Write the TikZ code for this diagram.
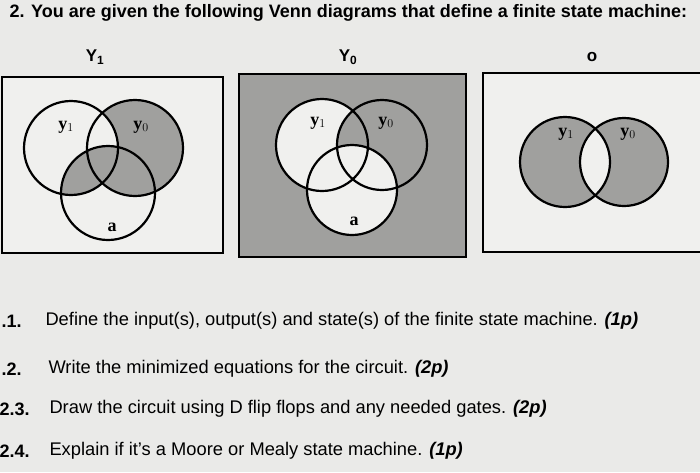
\documentclass[tikz,border=0pt]{standalone}
\usepackage{fontspec}
\setmainfont{Liberation Sans}
\newfontfamily\serifv{Liberation Serif}
\begin{document}
\begin{tikzpicture}[x=1pt,y=-1pt,
  box/.style={draw=black,line width=2pt},
  circ/.style={draw=black,line width=2.2pt},
  lab/.style={font=\serifv\bfseries\fontsize{18}{18}\selectfont},
  hdr/.style={font=\bfseries\fontsize{17}{17}\selectfont},
  qtxt/.style={anchor=west,font=\fontsize{18.3}{18.3}\selectfont}]
\definecolor{bg}{RGB}{234,234,232}
\definecolor{sh}{RGB}{160,160,158}
\definecolor{wh}{RGB}{240,240,238}
\fill[bg] (0,0) rectangle (700,472);
\useasboundingbox (0,0) rectangle (700,472);
\node[anchor=west,font=\bfseries\fontsize{18}{18}\selectfont] (title) at (6,13) {2. You are given the following Venn diagrams that define a finite state machine:};
\node[hdr] (h1) at (95,57) {Y\textsubscript{1}};
\node[hdr] (h2) at (348,57) {Y\textsubscript{0}};
\node[hdr] (h3) at (592,57) {o};
% diagram 1
\fill[wh] (2,77) rectangle (223,253);
\fill[sh] (135,148) circle (48);
\begin{scope}\clip (71,148) circle (47);
 \fill[wh] (135,148) circle (48);
\end{scope}
\begin{scope}\clip (108,193) circle (47);
 \fill[sh] (71,148) circle (47);
\end{scope}
\node[box,minimum width=221pt,minimum height=176pt,inner sep=0] (b1) at (112.5,165) {};
\node[circ,circle,minimum size=94pt,inner sep=0] (c1y1) at (71,148) {};
\node[circ,circle,minimum size=96pt,inner sep=0] (c1y0) at (135,148) {};
\node[circ,circle,minimum size=94pt,inner sep=0] (c1a) at (108,193) {};
\node[lab] (l1y1) at (66,127) {y$_1$};
\node[lab] (l1y0) at (141,127) {y$_0$};
\node[lab] (l1a) at (112,227) {a};
% diagram 2
\fill[sh] (239,74) rectangle (466,257);
\fill[wh] (322,145) circle (46);
\begin{scope}\clip (322,145) circle (46);
 \fill[sh] (382,145) circle (45);
\end{scope}
\fill[wh] (352,190) circle (45);
\node[box,minimum width=227pt,minimum height=183pt,inner sep=0] (b2) at (352.5,165.5) {};
\node[circ,circle,minimum size=92pt,inner sep=0] (c2y1) at (322,145) {};
\node[circ,circle,minimum size=90pt,inner sep=0] (c2y0) at (382,145) {};
\node[circ,circle,minimum size=90pt,inner sep=0] (c2a) at (352,190) {};
\node[lab] (l2y1) at (318,123) {y$_1$};
\node[lab] (l2y0) at (386,123) {y$_0$};
\node[lab] (l2a) at (354,221) {a};
% diagram 3
\fill[wh] (483,73) rectangle (702,252);
\fill[sh] (565,162) circle (45);
\fill[sh] (624,162) circle (44);
\begin{scope}\clip (565,162) circle (45);
 \fill[wh] (624,162) circle (44);
\end{scope}
\node[box,minimum width=221pt,minimum height=179pt,inner sep=0] (b3) at (593,162.5) {};
\node[circ,circle,minimum size=90pt,inner sep=0] (c3y1) at (565,162) {};
\node[circ,circle,minimum size=88pt,inner sep=0] (c3y0) at (624,162) {};
\node[lab] (l3y1) at (566,134) {y$_1$};
\node[lab] (l3y0) at (628,134) {y$_0$};
% questions
\node[qtxt,font=\bfseries\fontsize{18}{18}\selectfont] (n1) at (-2,321) {.1.};
\node[qtxt] (q1) at (42,321) {Define the input(s), output(s) and state(s) of the finite state machine. \textbf{\textit{(1p)}}};
\node[qtxt,font=\bfseries\fontsize{18}{18}\selectfont] (n2) at (-2,369) {.2.};
\node[qtxt] (q2) at (45,369) {Write the minimized equations for the circuit. \textbf{\textit{(2p)}}};
\node[qtxt,font=\bfseries\fontsize{18}{18}\selectfont] (n3) at (-4,409) {2.3.};
\node[qtxt] (q3) at (46,409) {Draw the circuit using D flip flops and any needed gates. \textbf{\textit{(2p)}}};
\node[qtxt,font=\bfseries\fontsize{18}{18}\selectfont] (n4) at (-4,451) {2.4.};
\node[qtxt] (q4) at (46,451) {Explain if it's a Moore or Mealy state machine. \textbf{\textit{(1p)}}};
\end{tikzpicture}
\end{document}
